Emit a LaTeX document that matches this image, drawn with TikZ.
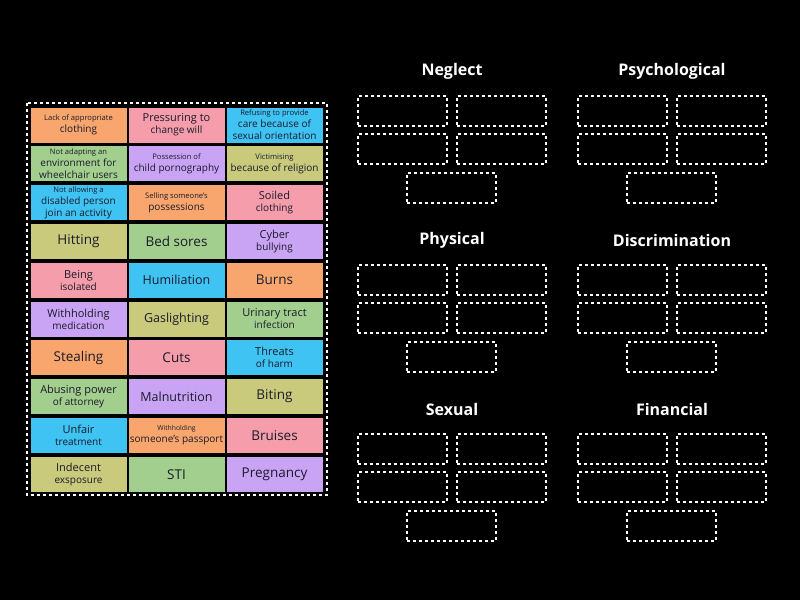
\documentclass[tikz,border=0pt]{standalone}
\usepackage{fontspec}
\setmainfont{Open Sans}
\definecolor{corange}{HTML}{F8A66D}
\definecolor{cpink}{HTML}{F59DAA}
\definecolor{cblue}{HTML}{3FC3F3}
\definecolor{cgreen}{HTML}{A2CE8E}
\definecolor{cpurple}{HTML}{C9A3F4}
\definecolor{colive}{HTML}{C9CA7C}
\definecolor{ctext}{HTML}{1B1B2B}
\tikzset{
  tile/.style={rectangle,minimum width=96pt,minimum height=35pt,inner sep=1pt,align=center,text=ctext},
  slot/.style={draw=white,dashed,line width=1.2pt,minimum width=89pt,minimum height=30pt},
  heading/.style={text=white,font=\fontsize{16}{18}\selectfont\bfseries}
}
\newcommand{\tsmall}{\fontsize{7.6}{8.6}\selectfont}
\newcommand{\tmid}{\fontsize{11}{11.5}\selectfont}
\newcommand{\tbig}{\fontsize{13.5}{15}\selectfont}
\newcommand{\tbigx}{\fontsize{12.5}{14}\selectfont}
\begin{document}
\begin{tikzpicture}[x=1pt,y=-1pt]
\fill[black] (0,0) rectangle (800,600);
\useasboundingbox (0,0) rectangle (800,600);
\draw[white,dashed,line width=1.2pt] (27,103) rectangle (327,495);
% tiles: column, row, colour, text
\foreach \c/\r/\col/\txt in {
  0/0/corange/{\tsmall Lack of appropriate\\clothing},
  1/0/cpink/{\tmid Pressuring to\\change will},
  2/0/cblue/{\tsmall Refusing to provide\\care because of\\sexual orientation},
  0/1/cgreen/{\tsmall Not adapting an\\environment for\\wheelchair users},
  1/1/cpurple/{\tsmall Possession of\\child pornography},
  2/1/colive/{\tsmall Victimising\\because of religion},
  0/2/cblue/{\tsmall Not allowing a\\disabled person\\join an activity},
  1/2/corange/{\tsmall Selling someone's\\possessions},
  2/2/cpink/{\tmid Soiled\\clothing},
  0/3/colive/{\tbig Hitting},
  1/3/cgreen/{\tbig Bed sores},
  2/3/cpurple/{\tmid Cyber\\bullying},
  0/4/cpink/{\tmid Being\\isolated},
  1/4/cblue/{\tbigx Humiliation},
  2/4/corange/{\tbig Burns},
  0/5/cpurple/{\tmid Withholding\\medication},
  1/5/colive/{\tbigx Gaslighting},
  2/5/cgreen/{\tmid Urinary tract\\infection},
  0/6/corange/{\tbig Stealing},
  1/6/cpink/{\tbig Cuts},
  2/6/cblue/{\tmid Threats\\of harm},
  0/7/cgreen/{\tmid Abusing power\\of attorney},
  1/7/cpurple/{\tbigx Malnutrition},
  2/7/colive/{\tbig Biting},
  0/8/cblue/{\tmid Unfair\\treatment},
  1/8/corange/{\fontsize{6.8}{7.8}\selectfont Withholding\\someone's passport},
  2/8/cpink/{\tbig Bruises},
  0/9/colive/{\tmid Indecent\\exsposure},
  1/9/cgreen/{\tbig STI},
  2/9/cpurple/{\tbig Pregnancy}}
  \node[tile,fill=\col] (t\c\r) at (78.5+98*\c,125+38.8*\r) {\txt};
% categories
\foreach \name/\x/\y [count=\i] in {Neglect/0/0,Psychological/220/0,Physical/0/169,Discrimination/220/169,Sexual/0/338,Financial/220/338}{
  \node[heading] (h\i) at (452+\x,71+\y) {\name};
  \node[slot] (s\i a) at (402.5+\x,111+\y) {};
  \node[slot] (s\i b) at (501.5+\x,111+\y) {};
  \node[slot] (s\i c) at (402.5+\x,149+\y) {};
  \node[slot] (s\i d) at (501.5+\x,149+\y) {};
  \node[slot] (s\i e) at (451.5+\x,188+\y) {};
}
\end{tikzpicture}
\end{document}
